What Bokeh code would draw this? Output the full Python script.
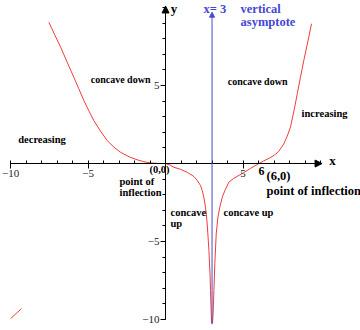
from bokeh.plotting import figure
from bokeh.models import Range1d, FixedTicker, Label, Arrow, NormalHead
from bokeh.embed import file_html
from bokeh.resources import INLINE

# Curve sampled on both sides of the vertical asymptote x = 3
left_x = [-7.53, -7.15, -6.77, -6.35, -5.92, -5.6, -5.27, -4.95, -4.63, -4.2,
          -3.76, -3.33, -2.90, -2.35, -1.83, -1.4, -0.97, -0.5, 0.0, 0.3,
          0.54, 0.97, 1.4, 1.83, 2.05, 2.26, 2.37, 2.47, 2.58, 2.67,
          2.73, 2.8, 2.84, 2.88, 2.9, 2.95, 2.97]
left_y = [9.06, 8.25, 7.46, 6.5, 5.53, 4.8, 4.04, 3.38, 2.76, 2.08,
          1.47, 1.05, 0.72, 0.43, 0.24, 0.12, 0.04, 0.01, 0.0, -0.1,
          -0.24, -0.37, -0.56, -0.83, -1.09, -1.41, -1.73, -2.16, -2.8, -3.65,
          -4.5, -5.58, -6.43, -7.29, -8.14, -9.63, -10.24]

right_x = [3.03, 3.07, 3.12, 3.18, 3.27, 3.38, 3.5, 3.66, 3.83, 4.08,
           4.4, 4.75, 5.05, 5.5, 5.92, 6.3, 6.7, 7.0, 7.3, 7.63,
           7.85, 8.06, 8.3, 8.5, 8.7, 8.92, 9.2, 9.42]
right_y = [-10.24, -9.63, -8.14, -6.43, -4.5, -3.44, -2.8, -2.16, -1.73, -1.2,
           -0.95, -0.75, -0.58, -0.3, -0.06, 0.15, 0.35, 0.52, 0.78, 1.26,
           1.75, 2.33, 3.45, 4.47, 5.5, 6.6, 7.9, 8.96]

# short red stroke in the lower-left corner
stray_x = [-10.0, -9.29]
stray_y = [-9.94, -9.29]

asymptote_x = 3
asymptote_y = [-10.3, 9.7]

axis_min, axis_max = -10, 10
major_ticks = [-10, -5, 5]
minor_ticks = list(range(-10, 11))
tick_labels = {-10: "\u221210", -5: "\u22125", 5: "5"}

RED = "#f03c3c"
BLUE = "#4a4acc"
TEXT_BLUE = "#4646d6"
SERIF = "Liberation Serif"

p = figure(width=360, height=330, output_backend="svg", toolbar_location=None,
           x_range=Range1d(-10.65, 12.58), y_range=Range1d(-10.7, 10.45),
           min_border=0, min_border_left=0, min_border_right=0,
           min_border_top=0, min_border_bottom=0)
p.outline_line_color = None
p.xgrid.visible = False
p.ygrid.visible = False
p.background_fill_color = "white"

# axes crossing at the origin
for ax in (p.xaxis[0], p.yaxis[0]):
    ax.fixed_location = 0
    ax.bounds = (axis_min, axis_max)
    ax.ticker = FixedTicker(ticks=major_ticks, minor_ticks=minor_ticks)
    ax.major_label_overrides = tick_labels
    ax.axis_line_color = "black"
    ax.major_tick_line_color = "black"
    ax.minor_tick_line_color = "black"
    ax.major_label_text_font = SERIF
    ax.major_label_text_font_size = "11px"
    ax.major_label_text_color = "#222222"
    ax.major_tick_out = 5
    ax.major_tick_in = 1
    ax.minor_tick_out = 0
    ax.minor_tick_in = 3
    ax.major_label_standoff = 1

p.yaxis[0].minor_tick_out = 3
p.yaxis[0].minor_tick_in = 0
p.yaxis[0].major_tick_in = 0

# arrow heads at the positive ends of the axes
p.add_layout(Arrow(end=NormalHead(size=7, fill_color="black", line_color="black"),
                   x_start=0, y_start=axis_max - 0.5, x_end=0, y_end=axis_max + 0.1,
                   line_color="black", line_width=1))
p.add_layout(Arrow(end=NormalHead(size=7, fill_color="black", line_color="black"),
                   x_start=axis_max - 0.5, y_start=0, x_end=axis_max + 0.1, y_end=0,
                   line_color="black", line_width=1))

# function curve
p.line(left_x, left_y, line_color=RED, line_width=1)
p.line(right_x, right_y, line_color=RED, line_width=1)
p.line(stray_x, stray_y, line_color=RED, line_width=1)

# vertical asymptote
p.add_layout(Arrow(end=NormalHead(size=5, fill_color=BLUE, line_color=BLUE),
                   x_start=asymptote_x, y_start=asymptote_y[0],
                   x_end=asymptote_x, y_end=asymptote_y[1],
                   line_color=BLUE, line_width=1))


def note(x, y, text, size="10.5px", color="black", align="left", style="bold"):
    p.add_layout(Label(x=x, y=y, text=text, text_font=SERIF, text_font_size=size,
                       text_font_style=style, text_color=color,
                       text_align=align, text_baseline="middle"))


note(-2.9, 5.38, "concave down", align="center", size="10px")
note(5.94, 5.26, "concave down", align="center", size="10px")
note(10.26, 3.2, "increasing", align="center")
note(-7.97, 1.54, "decreasing", align="center")
note(-0.39, -0.4, "(0,0)", align="center", size="10.5px")
note(-2.97, -1.15, "point of")
note(-2.97, -1.86, "inflection")
note(0.32, -3.14, "concave")
note(0.32, -3.85, "up")
note(3.74, -3.14, "concave up")
note(6.19, -0.5, "6", align="center", size="12px")
note(6.52, -0.77, "(6,0)", size="12.5px")
note(6.52, -1.73, "point of inflection", size="12.5px")
note(3.19, 9.9, "x= 3", align="center", size="12.5px", color=TEXT_BLUE)
note(4.84, 9.92, "vertical", size="12.5px", color=TEXT_BLUE)
note(4.84, 9.1, "asymptote", size="12.5px", color=TEXT_BLUE)
note(10.77, 0.19, "x", align="center", size="13px")
note(0.54, 9.92, "y", align="center", size="13px")

open("out.html", "w").write(file_html(p, INLINE))
